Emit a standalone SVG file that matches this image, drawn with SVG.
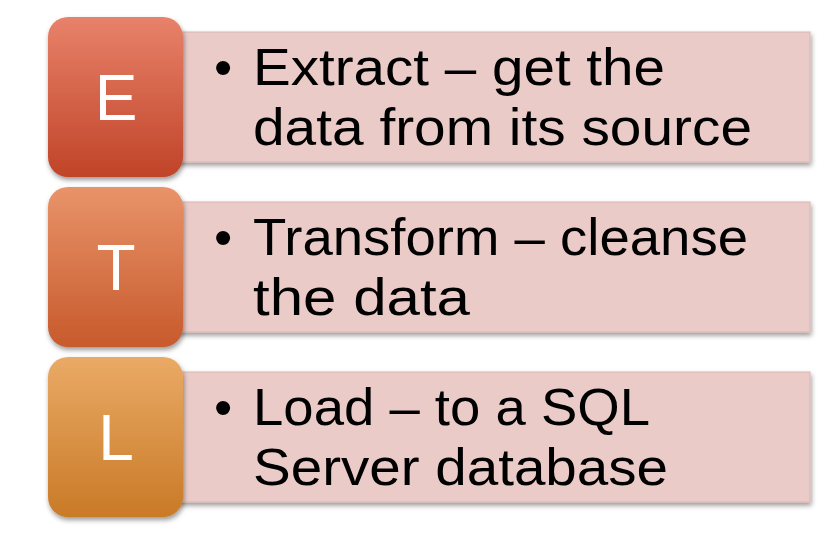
<svg xmlns="http://www.w3.org/2000/svg" width="840" height="548" viewBox="0 0 840 548">
<defs>
<linearGradient id="gE" x1="0" y1="0" x2="0" y2="1"><stop offset="0" stop-color="#e8826a"/><stop offset="1" stop-color="#c04428"/></linearGradient>
<linearGradient id="gT" x1="0" y1="0" x2="0" y2="1"><stop offset="0" stop-color="#e9936a"/><stop offset="1" stop-color="#c75a2c"/></linearGradient>
<linearGradient id="gL" x1="0" y1="0" x2="0" y2="1"><stop offset="0" stop-color="#eaaa66"/><stop offset="1" stop-color="#c97a26"/></linearGradient>
<filter id="sh" x="-10%" y="-10%" width="130%" height="130%"><feDropShadow dx="1" dy="3" stdDeviation="2.5" flood-color="#000" flood-opacity="0.4"/></filter>
</defs>
<style>
.panel{fill:#ebcbc8;stroke:#dcb5b0;stroke-width:1;filter:url(#sh)}
.txt{font-family:"Liberation Sans",Arial,sans-serif;font-size:52px;fill:#000}
.let{font-family:"Liberation Sans",Arial,sans-serif;font-size:64px;fill:#fff;text-anchor:middle}
</style>
<rect width="840" height="548" fill="#fff"/>
<g id="E">
<rect class="panel" x="175" y="32" width="635" height="130"/>
<rect x="48" y="17" width="135" height="160" rx="20" fill="url(#gE)" filter="url(#sh)"/>
<text class="let" x="116" y="120">E</text>
<text class="txt" x="214" y="85">•</text>
<text class="txt" x="253" y="85" textLength="412" lengthAdjust="spacingAndGlyphs">Extract – get the</text>
<text class="txt" x="253" y="145" textLength="499" lengthAdjust="spacingAndGlyphs">data from its source</text>
</g>
<g id="T">
<rect class="panel" x="175" y="202" width="635" height="130"/>
<rect x="48" y="187" width="135" height="160" rx="20" fill="url(#gT)" filter="url(#sh)"/>
<text class="let" x="116" y="290">T</text>
<text class="txt" x="214" y="255">•</text>
<text class="txt" x="253" y="255" textLength="495" lengthAdjust="spacingAndGlyphs">Transform – cleanse</text>
<text class="txt" x="253" y="315" textLength="217" lengthAdjust="spacingAndGlyphs">the data</text>
</g>
<g id="L">
<rect class="panel" x="175" y="372" width="635" height="130"/>
<rect x="48" y="357" width="135" height="160" rx="20" fill="url(#gL)" filter="url(#sh)"/>
<text class="let" x="116" y="460">L</text>
<text class="txt" x="214" y="425">•</text>
<text class="txt" x="253" y="425" textLength="397" lengthAdjust="spacingAndGlyphs">Load – to a SQL</text>
<text class="txt" x="253" y="485" textLength="415" lengthAdjust="spacingAndGlyphs">Server database</text>
</g>
<g id="connectors"/>
</svg>
